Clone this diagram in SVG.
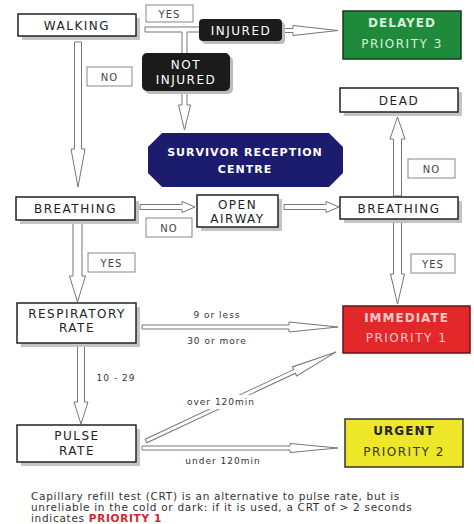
<svg xmlns="http://www.w3.org/2000/svg" width="474" height="524" viewBox="0 0 474 524">
<style>
.box{fill:#fff;stroke:#222;stroke-width:1.5}
.sh{fill:#c4c4c4}
.t{font-family:"DejaVu Sans",Verdana,sans-serif;font-size:12px;letter-spacing:1.5px;fill:#222;text-anchor:middle}
.b{font-weight:bold;letter-spacing:1px}
.lb{fill:#fff;stroke:#888;stroke-width:1}
.lt{font-family:"DejaVu Sans",Verdana,sans-serif;font-size:10px;letter-spacing:1px;fill:#444;text-anchor:middle}
.el{font-family:"DejaVu Sans",Verdana,sans-serif;font-size:9px;letter-spacing:1px;fill:#333;text-anchor:middle}
.ar{fill:#fff;stroke:#777;stroke-width:1;stroke-linejoin:miter}
.ft{font-family:"DejaVu Sans",Verdana,sans-serif;font-size:10.5px;letter-spacing:0.7px;fill:#333}
</style>
<rect width="474" height="524" fill="#fff"/>
<g id="connectors">
<polygon class="ar" points="74.5,42 81.5,42 81.5,149 85,149 78,187 71,149 74.5,149"/>
<polygon class="ar" points="145,27 200,27 200,32 187,32 187,105 190.5,105 184.5,130 178.5,105 182,105 182,32 145,32"/>
<polygon class="ar" points="282,28.5 293,28.5 293,25.5 338,30.5 293,35.5 293,32.5 282,32.5"/>
<polygon class="ar" points="140,204.5 182,204.5 182,201.5 195,207 182,212.5 182,209.5 140,209.5"/>
<polygon class="ar" points="284,204.5 326,204.5 326,201.5 339,207 326,212.5 326,209.5 284,209.5"/>
<polygon class="ar" points="393.5,196 401.5,196 401.5,139 405,139 397.5,117 390,139 393.5,139"/>
<polygon class="ar" points="393.5,222 401.5,222 401.5,274 404.5,274 397.5,304 390.5,274 393.5,274"/>
<polygon class="ar" points="73,223 82,223 82,276 85.5,276 77.5,302 69.5,276 73,276"/>
<polygon class="ar" points="142,325 289,325 289,322 338,327 289,332 289,329 142,329"/>
<polygon class="ar" points="77.5,345 84.5,345 84.5,402 88,402 81,424 74,402 77.5,402"/>
<polygon class="ar" transform="translate(146,441) rotate(-25.1)" points="0,-2 164,-2 164,-5 210,0 164,5 164,2 0,2"/>
<polygon class="ar" points="142,446 290,446 290,443.5 338,448 290,452.5 290,450 142,450"/>
</g>
<g id="walking"><rect class="sh" x="22" y="18" width="118" height="22"/><rect class="box" x="18" y="14" width="118" height="22"/><text class="t" x="77" y="30">WALKING</text></g>
<g id="yes-top"><rect class="lb" x="146" y="5" width="47" height="17"/><text class="lt" x="169.5" y="17.5">YES</text></g>
<g id="injured"><rect x="202" y="22" width="83" height="22" rx="4" fill="#bbb"/><rect x="199" y="19" width="83" height="22" rx="4" fill="#1b1b1b"/><text class="t" x="241" y="35" style="fill:#fff">INJURED</text></g>
<g id="delayed"><rect x="343" y="11" width="118" height="48" fill="#1f8a3c" stroke="#163d1a" stroke-width="1.5"/><text class="t b" x="402" y="27" style="fill:#d6f2d6">DELAYED</text><text class="t" x="402" y="48" style="fill:#d6f2d6">PRIORITY 3</text></g>
<g id="no-left"><rect class="lb" x="87" y="67" width="45" height="19"/><text class="lt" x="109.5" y="80.5">NO</text></g>
<g id="not-injured"><rect x="145" y="56" width="88" height="38" rx="5" fill="#bbb"/><rect x="142" y="53" width="88" height="38" rx="5" fill="#1b1b1b"/><text class="t" x="186" y="69" style="fill:#fff">NOT</text><text class="t" x="186" y="84" style="fill:#fff">INJURED</text></g>
<g id="dead"><rect class="sh" x="344" y="92" width="118" height="24"/><rect class="box" x="340" y="88" width="118" height="24"/><text class="t" x="399" y="105">DEAD</text></g>
<g id="survivor"><polygon points="162,133 329,133 343,147 343,173 329,187 162,187 148,173 148,147" fill="#1c1c6e"/><text class="t b" x="245" y="156" style="fill:#fff;font-size:11px">SURVIVOR RECEPTION</text><text class="t b" x="245" y="173" style="fill:#fff;font-size:11px">CENTRE</text></g>
<g id="no-right"><rect class="lb" x="408" y="159" width="47" height="19"/><text class="lt" x="431.5" y="172.5">NO</text></g>
<g id="breathing-left"><rect class="sh" x="20" y="201" width="119" height="23"/><rect class="box" x="16" y="197" width="119" height="23"/><text class="t" x="75.5" y="213">BREATHING</text></g>
<g id="open-airway"><rect class="sh" x="201" y="199" width="81" height="32"/><rect class="box" x="197" y="195" width="81" height="32"/><text class="t" x="237.5" y="209">OPEN</text><text class="t" x="237.5" y="223">AIRWAY</text></g>
<g id="breathing-right"><rect class="sh" x="344" y="201" width="118" height="22"/><rect class="box" x="340" y="197" width="118" height="22"/><text class="t" x="399" y="212.5">BREATHING</text></g>
<g id="no-under"><rect class="lb" x="146" y="218" width="46" height="19"/><text class="lt" x="169" y="231.5">NO</text></g>
<g id="yes-left"><rect class="lb" x="88" y="253" width="47" height="19"/><text class="lt" x="111.5" y="266.5">YES</text></g>
<g id="yes-right"><rect class="lb" x="411" y="254" width="44" height="19"/><text class="lt" x="433" y="267.5">YES</text></g>
<g id="respiratory"><rect class="sh" x="21" y="307" width="119" height="40"/><rect class="box" x="17" y="303" width="119" height="40"/><text class="t" x="77" y="318">RESPIRATORY</text><text class="t" x="77" y="332">RATE</text></g>
<g id="immediate"><rect x="343" y="306" width="127" height="47" fill="#e3282a" stroke="#6e1010" stroke-width="1.5"/><text class="t b" x="406.5" y="322" style="fill:#f8c8c8">IMMEDIATE</text><text class="t" x="406.5" y="342" style="fill:#f8c8c8">PRIORITY 1</text></g>
<g id="pulse"><rect class="sh" x="21" y="429" width="119" height="37"/><rect class="box" x="17" y="425" width="119" height="37"/><text class="t" x="77" y="440">PULSE</text><text class="t" x="77" y="455">RATE</text></g>
<g id="urgent"><rect x="345" y="419" width="118" height="48" fill="#eee727" stroke="#333" stroke-width="1.5"/><text class="t b" x="404" y="435" style="fill:#222">URGENT</text><text class="t" x="404" y="456" style="fill:#333">PRIORITY 2</text></g>
<g id="edge-labels">
<text class="el" x="217" y="318">9 or less</text>
<text class="el" x="217" y="344">30 or more</text>
<text class="el" x="116" y="381">10 - 29</text>
<rect x="188" y="395" width="66" height="14" fill="#fff"/>
<text class="el" x="221" y="405">over 120min</text>
<text class="el" x="223" y="464">under 120min</text>
</g>
<g id="footer">
<text class="ft" x="31" y="500">Capillary refill test (CRT) is an alternative to pulse rate, but is</text>
<text class="ft" x="31" y="511">unreliable in the cold or dark: if it is used, a CRT of &gt; 2 seconds</text>
<text class="ft" x="31" y="522">indicates <tspan font-weight="bold" fill="#e0202e">PRIORITY 1</tspan></text>
</g>
</svg>
